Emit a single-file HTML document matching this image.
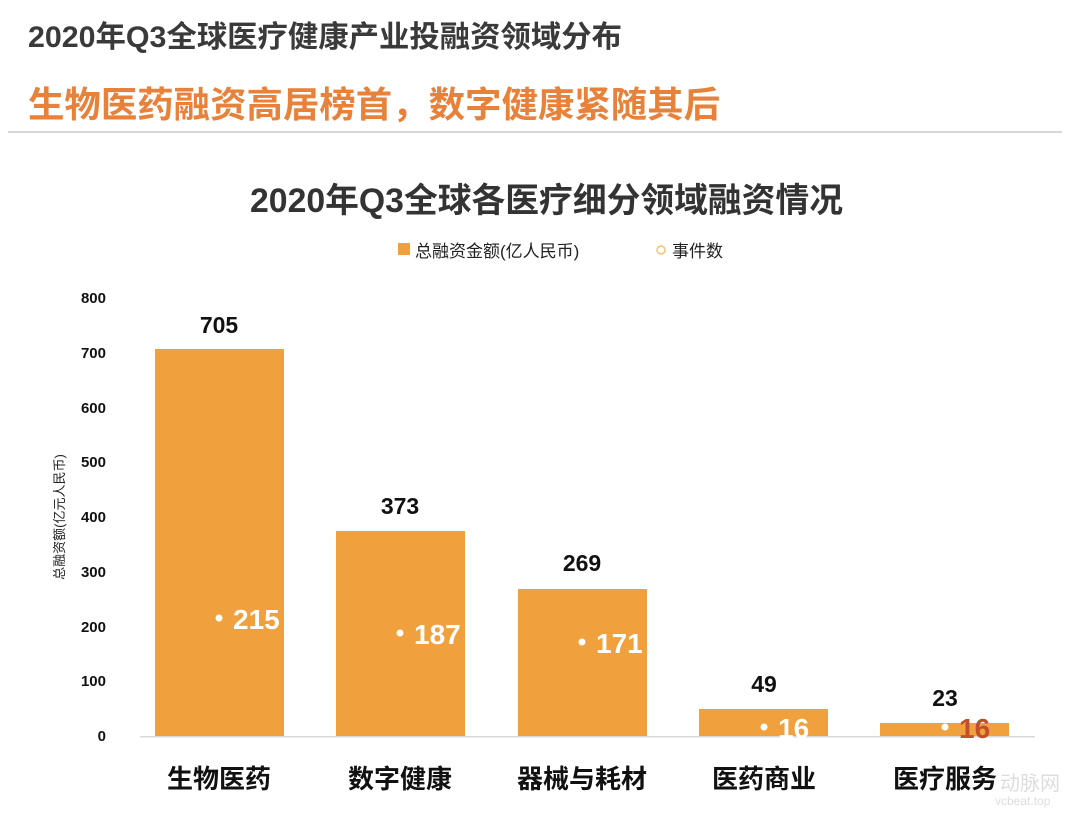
<!DOCTYPE html>
<html><head><meta charset="utf-8"><style>
body{margin:0;background:#fff;width:1080px;height:811px;overflow:hidden}
svg text{font-family:"Liberation Sans","Noto Sans CJK SC",sans-serif;font-weight:bold}
</style></head><body>
<svg width="1080" height="811" viewBox="0 0 1080 811">
<text x="28" y="47" font-size="30" fill="#3a3a3a" textLength="594" lengthAdjust="spacingAndGlyphs">2020年Q3全球医疗健康产业投融资领域分布</text>
<text x="28" y="117" font-size="36" fill="#e8813a" textLength="692" lengthAdjust="spacingAndGlyphs">生物医药融资高居榜首，数字健康紧随其后</text>
<rect x="8" y="131" width="1054" height="2" fill="#d6d6d6"/>
<text x="250" y="212" font-size="34" fill="#333" textLength="593" lengthAdjust="spacingAndGlyphs">2020年Q3全球各医疗细分领域融资情况</text>
<rect x="398" y="243" width="12" height="12" fill="#f0a03c"/>
<text x="415" y="257" font-size="17" fill="#222" style="font-weight:normal">总融资金额(亿人民币)</text>
<circle cx="661" cy="250" r="4" fill="none" stroke="#f3c27a" stroke-width="1.5"/>
<text x="672" y="257" font-size="17" fill="#222" style="font-weight:normal">事件数</text>
<g font-size="15" fill="#111" text-anchor="end">
<text x="106" y="303">800</text><text x="106" y="358">700</text><text x="106" y="413">600</text>
<text x="106" y="467">500</text><text x="106" y="522">400</text><text x="106" y="577">300</text>
<text x="106" y="632">200</text><text x="106" y="686">100</text><text x="106" y="741">0</text>
</g>
<text transform="translate(64,517) rotate(-90)" font-size="13" fill="#222" text-anchor="middle" style="font-weight:normal">总融资额(亿元人民币)</text>
<g fill="#f0a03c">
<rect x="155" y="349" width="129" height="387"/>
<rect x="336" y="531" width="129" height="205"/>
<rect x="518" y="589" width="129" height="147"/>
<rect x="699" y="709" width="129" height="27"/>
<rect x="880" y="723" width="129" height="13"/>
</g>
<rect x="140" y="736" width="895" height="1.5" fill="#d9d9d9"/>
<g font-size="23" fill="#111" text-anchor="middle">
<text x="219" y="333">705</text><text x="400" y="514">373</text><text x="582" y="571">269</text>
<text x="764" y="692">49</text><text x="945" y="706">23</text>
</g>
<g fill="#fff">
<circle cx="219" cy="618" r="3.5"/><circle cx="400" cy="633" r="3.5"/><circle cx="582" cy="642" r="3.5"/>
<circle cx="764" cy="727" r="3.5"/><circle cx="945" cy="727" r="3.5"/>
</g>
<g font-size="28" fill="#fff">
<text x="233" y="629">215</text><text x="414" y="644">187</text><text x="596" y="653">171</text>
<text x="778" y="738">16</text><text x="959" y="738" fill="#c0502a">16</text>
</g>
<g font-size="26" fill="#111" text-anchor="middle">
<text x="219" y="788">生物医药</text><text x="400" y="788">数字健康</text><text x="582" y="788">器械与耗材</text>
<text x="764" y="788">医药商业</text><text x="945" y="788">医疗服务</text>
</g>
<text x="1000" y="790" font-size="20" fill="#ddd" style="font-weight:normal">动脉网</text>
<text x="995" y="805" font-size="12" fill="#ddd" style="font-weight:normal">vcbeat.top</text>
</svg>
</body></html>
